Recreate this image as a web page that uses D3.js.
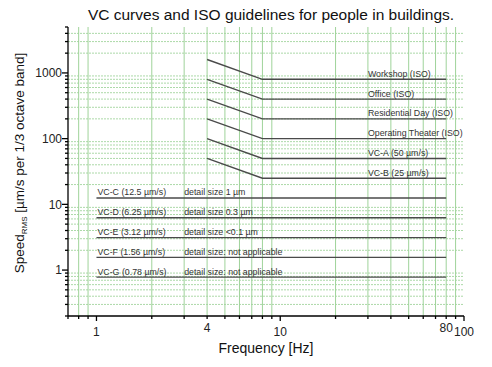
<!DOCTYPE html>
<html>
<head>
<meta charset="utf-8">
<script src="https://cdn.jsdelivr.net/npm/d3@7"></script>
<style>
  html, body { margin: 0; padding: 0; background: #fff; }
  svg { display: block; font-family: "Liberation Sans", Arial, sans-serif; }
</style>
</head>
<body>
<svg id="chart" width="492" height="367"></svg>
<script>
// ---- data ----
const isoNames = ["Workshop (ISO)", "Office (ISO)", "Residential Day (ISO)", "Operating Theater (ISO)", "VC-A (50 µm/s)", "VC-B (25 µm/s)"];
const isoLowValues = [1600, 800, 400, 200, 100, 50];   // value at 4 Hz
const isoFlatValues = [800, 400, 200, 100, 50, 25];    // value from 8 to 80 Hz
const isoFreqs = [4, 8, 80];
const vcNames = ["VC-C (12.5 µm/s)", "VC-D (6.25 µm/s)", "VC-E (3.12 µm/s)", "VC-F (1.56 µm/s)", "VC-G (0.78 µm/s)"];
const vcDetails = ["detail size 1 µm", "detail size 0.3 µm", "detail size <0.1 µm", "detail size: not applicable", "detail size: not applicable"];
const vcValues = [12.5, 6.25, 3.12, 1.56, 0.78];
const vcFreqs = [1, 80];
const xTickLabels = [1, 4, 10, 80, 100];
const yTickLabels = [1, 10, 100, 1000];
const xDomain = [0.7, 100];
const yDomain = [0.2, 5000];

// ---- layout ----
const W = 492, H = 367;
const m = { left: 68, right: 28, top: 27, bottom: 51 };
const svg = d3.select("#chart");
const x = d3.scaleLog().domain(xDomain).range([m.left, W - m.right]);
const y = d3.scaleLog().domain(yDomain).range([H - m.bottom, m.top]);

function logTicks(domain) {
  const out = [];
  for (let e = -2; e <= 5; e++) {
    for (let k = 1; k <= 9; k++) {
      const v = +(k * Math.pow(10, e)).toPrecision(6);
      if (v >= domain[0] - 1e-9 && v <= domain[1] + 1e-9) out.push({ v, major: k === 1 });
    }
  }
  return out;
}
const xt = logTicks(xDomain);
const yt = logTicks(yDomain);

// ---- grid (minor only) ----
const grid = svg.append("g");
grid.selectAll("line.hg").data(yt.filter(d => !d.major && d.v < yDomain[1] && d.v > yDomain[0]))
  .join("line").attr("class", "hg")
  .attr("x1", m.left).attr("x2", W - m.right)
  .attr("y1", d => y(d.v)).attr("y2", d => y(d.v))
  .attr("stroke", "#acd9a8").attr("stroke-width", 1).attr("stroke-dasharray", "2,1");
grid.selectAll("line.vg").data(xt.filter(d => !d.major && d.v > xDomain[0]))
  .join("line").attr("class", "vg")
  .attr("x1", d => x(d.v)).attr("x2", d => x(d.v))
  .attr("y1", m.top).attr("y2", H - m.bottom)
  .attr("stroke", "#9fd39a").attr("stroke-width", 1);

// ---- axes ----
const ax = svg.append("g").attr("stroke", "#000").attr("stroke-width", 1.3);
ax.append("line").attr("x1", m.left).attr("x2", m.left).attr("y1", m.top).attr("y2", H - m.bottom);
ax.append("line").attr("x1", m.left).attr("x2", W - m.right).attr("y1", H - m.bottom).attr("y2", H - m.bottom);
ax.selectAll("line.yt").data(yt).join("line").attr("class", "yt")
  .attr("x1", d => m.left - (d.major ? 6 : 3)).attr("x2", m.left)
  .attr("y1", d => y(d.v)).attr("y2", d => y(d.v));
ax.selectAll("line.xt").data(xt).join("line").attr("class", "xt")
  .attr("x1", d => x(d.v)).attr("x2", d => x(d.v))
  .attr("y1", H - m.bottom).attr("y2", d => H - m.bottom + (d.major ? 5 : 3));

const fmt = d3.format("d");
svg.append("g").selectAll("text").data(yTickLabels).join("text")
  .attr("x", m.left - 6).attr("y", d => y(d)).attr("dy", "0.35em")
  .attr("text-anchor", "end").attr("font-size", 12).attr("fill", "#222")
  .text(d => fmt(d));
svg.append("g").selectAll("text").data(xTickLabels).join("text")
  .attr("x", d => x(d)).attr("y", d => H - m.bottom + ((d === 4 || d === 80) ? 16 : 20))
  .attr("text-anchor", "middle").attr("font-size", 12).attr("fill", "#222")
  .text(d => fmt(d));

// ---- curves ----
const line = d3.line().x(d => x(d[0])).y(d => y(d[1]));
const curves = svg.append("g").attr("fill", "none").attr("stroke", "#4a4a4a").attr("stroke-width", 1.4);
isoNames.forEach((n, i) => {
  const pts = [[isoFreqs[0], isoLowValues[i]], [isoFreqs[1], isoFlatValues[i]], [isoFreqs[2], isoFlatValues[i]]];
  curves.append("path").attr("d", line(pts));
});
vcNames.forEach((n, i) => {
  const pts = vcFreqs.map(f => [f, vcValues[i]]);
  curves.append("path").attr("d", line(pts));
});

// ---- labels ----
const lab = svg.append("g").attr("font-size", 8.8).attr("fill", "#333");
lab.selectAll("text.iso").data(isoNames).join("text").attr("class", "iso")
  .attr("x", x(30)).attr("y", (d, i) => y(isoFlatValues[i]) - 2.5).text(d => d);
lab.selectAll("text.vc").data(vcNames).join("text").attr("class", "vc")
  .attr("x", x(1) + 1).attr("y", (d, i) => y(vcValues[i]) - 2.5).text(d => d);
lab.selectAll("text.det").data(vcDetails).join("text").attr("class", "det")
  .attr("x", x(3)).attr("y", (d, i) => y(vcValues[i]) - 2.5).text(d => d);

// ---- titles ----
svg.append("text").attr("x", 271).attr("y", 20).attr("text-anchor", "middle")
  .attr("font-size", 15.5).attr("fill", "#111")
  .text("VC curves and ISO guidelines for people in buildings.");
svg.append("text").attr("x", (m.left + W - m.right) / 2).attr("y", 353).attr("text-anchor", "middle")
  .attr("font-size", 14).attr("fill", "#111").text("Frequency [Hz]");
const yl = svg.append("text").attr("transform", "translate(24,163) rotate(-90)")
  .attr("text-anchor", "middle").attr("font-size", 13.5).attr("fill", "#111");
yl.append("tspan").text("Speed");
yl.append("tspan").attr("font-size", 8).attr("dy", 3).text("RMS");
yl.append("tspan").attr("dy", -3).text(" [µm/s per 1/3 octave band]");
</script>
</body>
</html>
